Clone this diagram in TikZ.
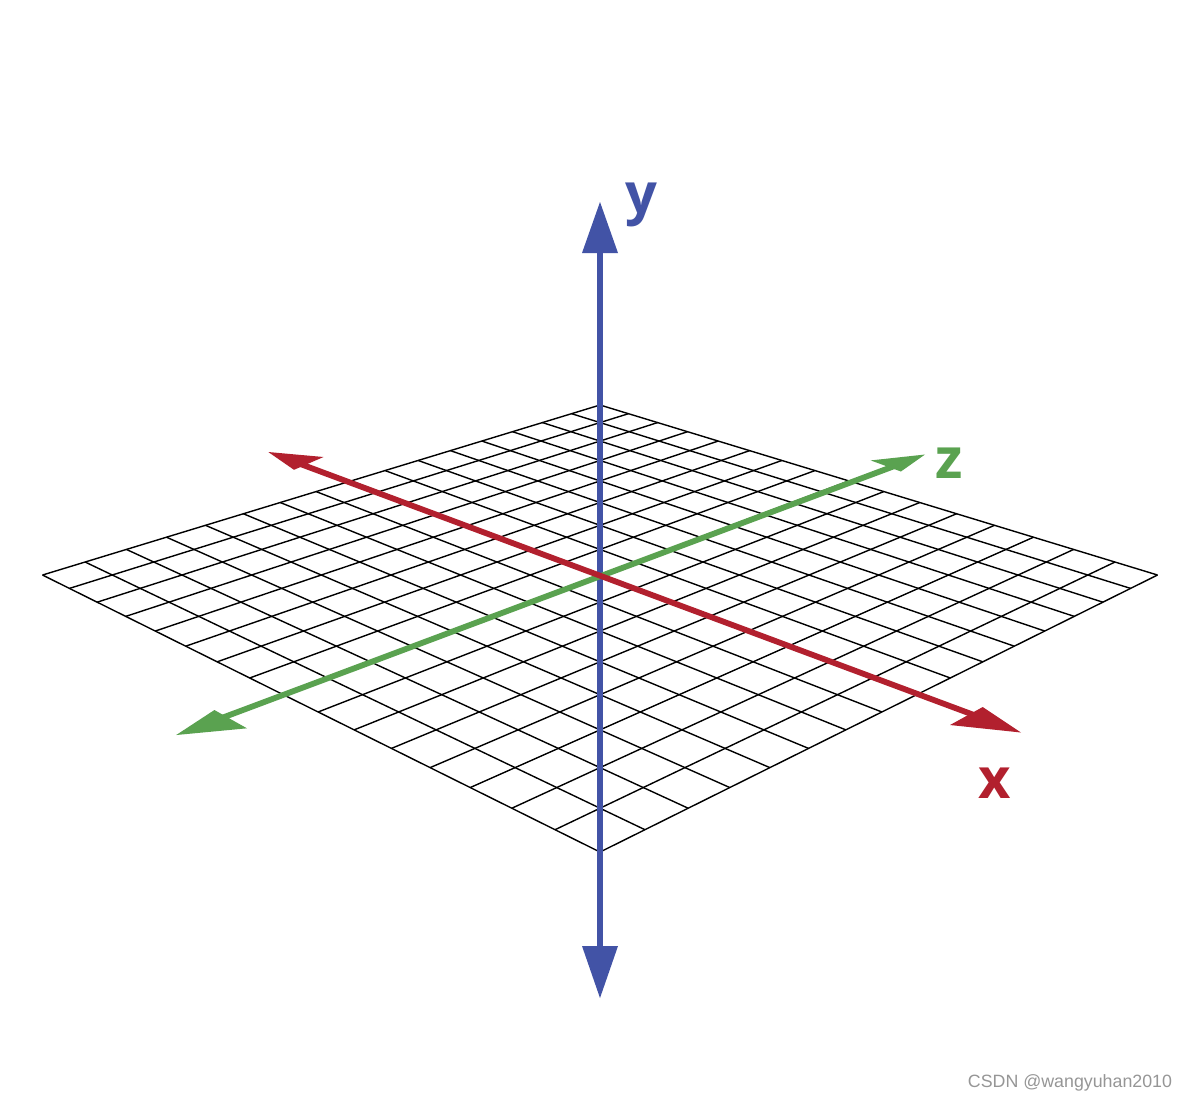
\documentclass[tikz,border=0pt]{standalone}
\usepackage{fontspec}
\newfontfamily\labfont{Open Sans}
\newfontfamily\wmfont{Liberation Sans}
\definecolor{axisblue}{RGB}{66,83,166}
\definecolor{axisred}{RGB}{178,32,46}
\definecolor{axisgreen}{RGB}{90,162,80}
\definecolor{wmgray}{RGB}{150,150,150}
\newcommand{\gridpt}[3]{%
  \pgfmathsetmacro{\gpp}{(#1+#2)/16}%
  \pgfmathsetmacro{\gqq}{(#2-#1)/16}%
  \pgfmathsetmacro{\gden}{1+0.2394*\gpp}%
  \pgfmathsetmacro{\gX}{600+557.5*\gqq/\gden}%
  \pgfmathsetmacro{\gY}{575-210.7*\gpp/\gden}%
  \coordinate (#3) at (\gX,\gY);}
\begin{document}
\begin{tikzpicture}[x=0.5pt,y=-0.5pt,
  gridline/.style={draw=black,line width=0.7pt},
  shaftred/.style={draw=axisred,line width=2.9pt},
  shaftgreen/.style={draw=axisgreen,line width=2.9pt},
  shaftblue/.style={draw=axisblue,line width=3.4pt},
  axlabel/.style={font=\labfont\bfseries\fontsize{28}{30}\selectfont,anchor=base,inner sep=0pt}]
\useasboundingbox[fill=white] (0,0) rectangle (1188,1100);
% grid
\foreach \i in {-8,...,8}{
  \gridpt{\i}{-8}{ga1}\gridpt{\i}{8}{ga2}
  \draw[gridline] (ga1) -- (ga2);
  \gridpt{-8}{\i}{gb1}\gridpt{8}{\i}{gb2}
  \draw[gridline] (gb1) -- (gb2);
}
% coordinates of axes
\coordinate (yT) at (600,202);
\coordinate (yT1) at (582,253);
\coordinate (yT2) at (618,253);
\coordinate (yB) at (600,998);
\coordinate (yB1) at (582,946);
\coordinate (yB2) at (618,946);
\coordinate (ys1) at (600,240);
\coordinate (ys2) at (600,960);
\coordinate (zL) at (176.2,735);
\coordinate (zL1) at (214.4,710);
\coordinate (zL2) at (247,728.3);
\coordinate (zR) at (925,454.5);
\coordinate (zR1) at (870.7,460.4);
\coordinate (zR2) at (900.9,471.5);
\coordinate (zs1) at (220,718.6);
\coordinate (zs2) at (895,465.8);
\coordinate (xL) at (268.3,452);
\coordinate (xL1) at (323.5,457);
\coordinate (xL2) at (294,469.8);
\coordinate (xR) at (1021,732.5);
\coordinate (xR1) at (950,725);
\coordinate (xR2) at (982.7,707);
\coordinate (xs1) at (295,462);
\coordinate (xs2) at (985,719.1);
% y axis
\draw[shaftblue] (ys1) -- (ys2);
\fill[axisblue] (yT) -- (yT1) -- (yT2) -- cycle;
\fill[axisblue] (yB) -- (yB1) -- (yB2) -- cycle;
% z axis
\draw[shaftgreen] (zs1) -- (zs2);
\fill[axisgreen] (zL) -- (zL1) -- (zL2) -- cycle;
\fill[axisgreen] (zR) -- (zR1) -- (zR2) -- cycle;
% x axis
\draw[shaftred] (xs1) -- (xs2);
\fill[axisred] (xL) -- (xL1) -- (xL2) -- cycle;
\fill[axisred] (xR) -- (xR1) -- (xR2) -- cycle;
% labels
\node[axlabel,text=axisblue] (ylab) at (641.5,213.5) {y};
\node[axlabel,text=axisgreen] (zlab) at (949.3,478) {z};
\node[axlabel,text=axisred] (xlab) at (994.5,798) {x};
\node[font=\wmfont\fontsize{8.9}{10}\selectfont,text=wmgray,anchor=base,inner sep=0pt] (wm) at (1070,1087) {CSDN @wangyuhan2010};
\end{tikzpicture}
\end{document}
